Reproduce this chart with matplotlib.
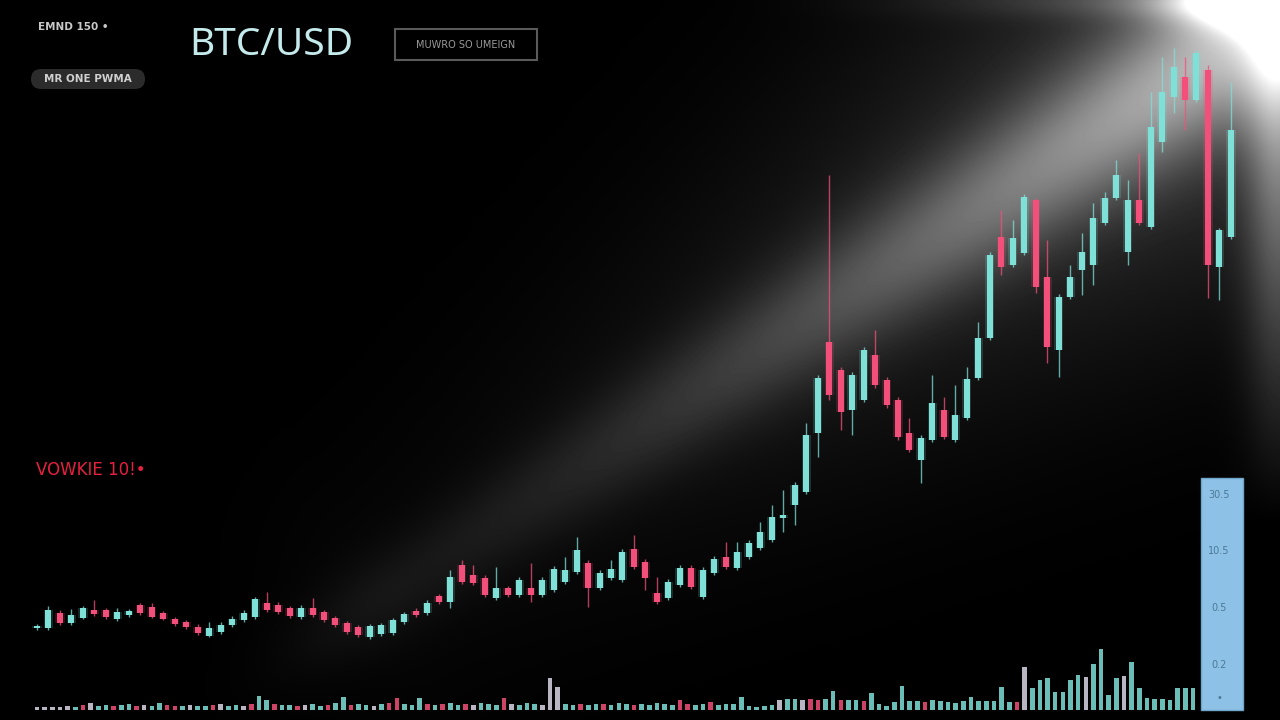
import numpy as np
import matplotlib
matplotlib.use("Agg")
import matplotlib.pyplot as plt
from matplotlib.patches import Rectangle, FancyBboxPatch

# ---------------- data ----------------
opens = [9200, 9200, 10700, 9700, 10200, 11000, 11000, 10100, 10500, 11500,
         11300, 10700, 10100, 9800, 9300, 8400, 8800, 9500, 10000, 10300,
         11700, 11500, 11200, 10300, 11200, 10800, 10200, 9700, 9300, 8300,
         8600, 8700, 9800, 10900, 10700, 12400, 11800, 15500, 14500, 14200,
         12200, 13200, 12500, 13200, 12500, 13000, 13800, 14800, 15700, 13200,
         14200, 14000, 17100, 15800, 12700, 12200, 13500, 15200, 12300, 14700,
         16300, 15200, 16300, 17200, 18000, 20200, 21500, 22800, 28700, 37800,
         35000, 31000, 32000, 36500, 34000, 32000, 28700, 26000, 28000, 31000,
         28000, 30200, 34200, 38200, 48300, 45500, 46700, 52000, 44300, 37000,
         42300, 45000, 45500, 49700, 52200, 46800, 52000, 49300, 57800, 62300,
         64300, 62000, 65000, 45300, 48300]
closes = [9400, 11000, 9700, 10500, 11200, 10600, 10300, 10800, 10900, 10700,
          10300, 10100, 9600, 9300, 8700, 9200, 9500, 10100, 10700, 12100,
          11000, 10800, 10400, 11200, 10500, 10000, 9500, 8800, 8500, 9400,
          9500, 10000, 10600, 10500, 11700, 11800, 14300, 13800, 13700, 12500,
          13200, 12500, 14000, 12500, 14000, 15100, 15000, 17000, 13200, 14700,
          15100, 16800, 15300, 14200, 11800, 13800, 15200, 13300, 15000, 16100,
          15300, 16800, 17700, 18800, 20300, 20500, 23500, 28500, 34200, 32500,
          30800, 34500, 37000, 33500, 31500, 28300, 27000, 28200, 31700, 28300,
          30500, 34100, 38200, 46500, 45300, 48200, 52300, 43300, 37300, 42300,
          44300, 46800, 50200, 52200, 54500, 52000, 49700, 59300, 62800, 65300,
          62000, 66700, 45500, 49000, 59000]
highs = [9600, 11400, 11000, 11100, 11400, 12000, 11200, 11200, 11100, 11700,
         11700, 10900, 10300, 10000, 9600, 9800, 9800, 10400, 11000, 12300,
         12800, 11800, 11400, 11500, 12200, 11000, 10400, 9900, 9500, 9600,
         9700, 10200, 10800, 11200, 12000, 12600, 15000, 16000, 15500, 14500,
         15300, 13400, 14300, 15700, 14300, 15400, 16300, 18300, 16000, 15000,
         16000, 17100, 18500, 16100, 14300, 14100, 15500, 15500, 15300, 16400,
         17800, 17800, 18000, 19800, 21500, 23000, 23800, 29700, 34500, 54500,
         35300, 34800, 37300, 39000, 34300, 32300, 30200, 28500, 34500, 32300,
         33500, 35300, 39800, 46800, 51000, 50000, 52600, 52200, 48000, 42600,
         45500, 48700, 51700, 52800, 56000, 54000, 56700, 62800, 66300, 67200,
         66300, 67000, 65500, 49200, 63800]
lows = [9000, 9000, 9500, 9500, 10100, 10400, 10100, 9900, 10300, 10500,
        10200, 10000, 9400, 9100, 8500, 8300, 8600, 9300, 9800, 10100,
        10800, 10600, 10200, 10100, 10300, 9800, 9300, 8600, 8300, 8100,
        8400, 8500, 9600, 10300, 10500, 11600, 11200, 13600, 13500, 12300,
        12000, 12300, 12300, 11800, 12300, 12800, 13600, 14600, 11300, 13000,
        14000, 13800, 15100, 13000, 11600, 12000, 13300, 13100, 12100, 14500,
        15100, 15000, 16100, 17000, 17800, 18800, 19500, 22600, 26300, 32000,
        29000, 28500, 31800, 33200, 31200, 28000, 26800, 23700, 27800, 28100,
        27800, 30000, 34000, 38000, 44500, 45300, 46500, 42700, 35700, 34300,
        42100, 42500, 43500, 49500, 52000, 45500, 49500, 49100, 56800, 60700,
        59000, 61800, 42200, 42000, 48100]

volumes = [3, 3, 3, 3, 4, 3, 5, 7, 4, 5,
           4, 5, 6, 4, 5, 4, 7, 5, 4, 4,
           5, 4, 4, 5, 6, 4, 5, 4, 6, 14,
           10, 6, 5, 5, 4, 5, 6, 4, 5, 7,
           13, 5, 6, 5, 4, 6, 7, 12, 6, 5,
           12, 6, 5, 6, 7, 5, 6, 5, 7, 6,
           5, 12, 6, 5, 7, 6, 5, 32, 23, 6,
           5, 6, 5, 6, 6, 5, 7, 6, 5, 6,
           5, 7, 6, 5, 10, 6, 5, 6, 8, 5,
           6, 6, 13, 4, 3, 4, 5, 10, 11, 11,
           10, 11, 10, 11, 19, 10, 10, 10, 9, 17,
           6, 4, 8, 24, 9, 9, 8, 10, 9, 8,
           7, 9, 13, 9, 9, 9, 23, 8, 8, 43,
           22, 30, 32, 18, 18, 30, 35, 33, 46, 61,
           15, 32, 34, 48, 22, 12, 11, 11, 10, 22,
           22, 22]
vol_dir = ("nnnnnudnuu" "duudnuuddu" "nuudnuundu" "uduudnuudu" "uduunudduu"
           "ududuudnuu" "udnuuunnnu" "uduuduuudu" "uuuudduudu" "uuuuuuunuu"
           "ndduuduudu" "uuuuuuduuu" "uuuuuuuudn" "uuuuuuunuu" "uunuuuuuuu" "uu")

vol_axis_labels = ["30.5", "10.5", "0.5", "0.2", "•"]
title = "BTC/USD"
top_left_label = "EMND 150 •"
pill_label = "MR ONE PWMA"
box_label = "MUWRO SO UMEIGN"
volume_label = "VOWKIE 10!•"

# ---------------- style ----------------
UP = "#7fe0d8"
DOWN = "#f2507a"
NEUT = "#dcd6e6"
W, H = 1280, 720

fig = plt.figure(figsize=(12.8, 7.2), dpi=100, facecolor="black")

# background glow (decoration)
yy, xx = np.mgrid[0:H, 0:W].astype(float)
x0, y0 = 400.0, 585.0
x1, y1 = 1290.0, 6.0
d = np.array([x1 - x0, y1 - y0]); L = np.hypot(*d); u = d / L
t = ((xx - x0) * u[0] + (yy - y0) * u[1]) / L
perp = np.abs(-(xx - x0) * u[1] + (yy - y0) * u[0])
tc = np.clip(t, 0, 1.1)
amp = (0.08 + 0.66 * tc ** 1.6) * np.where(t < 0, np.exp(-(t / 0.12) ** 2), 1.0)
core = np.exp(-(perp / (40 + 35 * tc)) ** 2)
halo = 0.33 * np.exp(-(perp / (140 + 100 * tc)) ** 2)
glow = amp * (0.8 * core + halo)
glow += 0.9 * np.exp(-(((W - xx) / 90) ** 2 + (yy / 30) ** 2))
glow += 0.55 * np.exp(-((W - xx) / 35) ** 2) * np.clip(1 - yy / 520, 0, 1)
glow += 0.35 * np.exp(-(yy / 18) ** 2) * np.clip((xx - 700) / 580, 0, 1) ** 2
glow = np.clip(glow, 0, 1)

bg = fig.add_axes([0, 0, 1, 1])
bg.imshow(glow, extent=(0, W, H, 0), cmap="gray", vmin=0, vmax=1,
          aspect="auto", interpolation="bilinear")
bg.set_xlim(0, W); bg.set_ylim(H, 0); bg.axis("off")

# price axes
n = len(opens)
step = 11.48
ax = fig.add_axes([0, 0, 1, 1]); ax.patch.set_alpha(0)
ax.set_xlim(-37 / step, (W - 37) / step)
ax.set_ylim(0, 72000)
ax.axis("off")
idx = np.arange(n)
o = np.array(opens); c = np.array(closes)
hi = np.array(highs); lo = np.array(lows)
up = c >= o
cols = np.where(up, UP, DOWN)
ax.vlines(idx, lo, hi, colors=cols, linewidth=1.0, alpha=0.75, zorder=2)
body_b = np.minimum(o, c); body_h = np.maximum(np.abs(c - o), 250)
ax.bar(idx, body_h, bottom=body_b, width=0.8, color=cols, alpha=0.18, zorder=2, linewidth=0)
ax.bar(idx, body_h, bottom=body_b, width=0.52, color=cols, zorder=3, linewidth=0)

# volume axes
vstep = (1193 - 37) / (len(volumes) - 1)
vax = fig.add_axes([0, 0, 1, 1]); vax.patch.set_alpha(0)
vax.set_xlim(-37 / vstep, (W - 37) / vstep)
vax.set_ylim(-10, 710)
vax.axis("off")
vcmap = {"u": UP, "d": DOWN, "n": NEUT}
vcols = [vcmap[k] for k in vol_dir]
vax.bar(np.arange(len(volumes)), volumes, width=0.6, color=vcols, alpha=0.85, linewidth=0)

# overlay for labels
ov = fig.add_axes([0, 0, 1, 1]); ov.patch.set_alpha(0)
ov.set_xlim(0, W); ov.set_ylim(H, 0); ov.axis("off")

ov.text(38, 27, top_left_label, color="#c8c8c8", fontsize=7.5, fontweight="bold",
        family="DejaVu Sans", va="center", ha="left")
ov.text(189, 45, title, color="#c4eaec", fontsize=28, family="Noto Sans",
        va="center", ha="left")
ov.add_patch(Rectangle((395, 29), 142, 31, fill=False, edgecolor="#5a5a5a", linewidth=1.5))
ov.text(466, 44.5, box_label, color="#9a9a9a", fontsize=7, family="DejaVu Sans",
        va="center", ha="center")
ov.add_patch(FancyBboxPatch((31, 69), 114, 20, boxstyle="round,pad=0,rounding_size=10",
                            facecolor="#2b2b2b", edgecolor="none"))
ov.text(88, 79, pill_label, color="#d0d0d0", fontsize=7.5, fontweight="bold",
        family="DejaVu Sans", va="center", ha="center")
ov.text(36, 470, volume_label, color="#e8203f", fontsize=12, family="DejaVu Sans",
        va="center", ha="left")

# right volume scale box
ov.add_patch(Rectangle((1201, 478), 42, 232, facecolor="#8dc2e6", edgecolor="#6fa6cc",
                       linewidth=1, zorder=5))
for lab, yp in zip(vol_axis_labels, [495, 551, 608, 665, 698]):
    ov.text(1219, yp, lab, color="#4a7898", fontsize=7, ha="center", va="center", zorder=6)

fig.savefig("out.png", dpi=100, facecolor="black")
